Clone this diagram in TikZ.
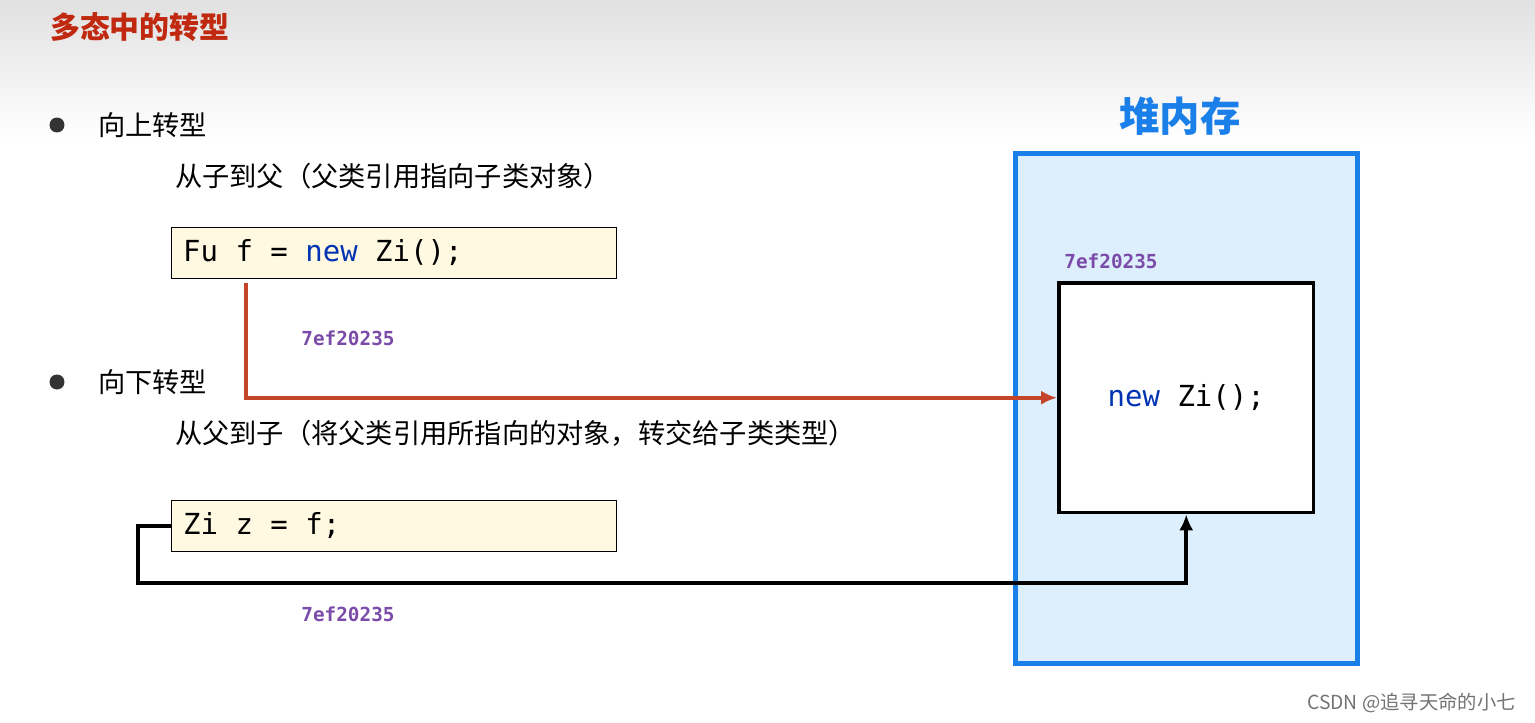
\documentclass[tikz,border=0pt]{standalone}
\usepackage{fontspec}
\setmainfont{Noto Sans CJK SC}
\setmonofont{DejaVu Sans Mono}
\usetikzlibrary{positioning}
\usetikzlibrary{arrows.meta}
\definecolor{titlered}{HTML}{C0280F}
\definecolor{codeblue}{HTML}{0033B3}
\definecolor{addrpurple}{HTML}{7A4BA8}
\definecolor{heapblue}{HTML}{1A7FE8}
\definecolor{heapfill}{HTML}{DDEEFD}
\definecolor{codefill}{HTML}{FFF9E1}
\definecolor{refred}{HTML}{C5452A}
\begin{document}
\begin{tikzpicture}[x=0.02cm, y=-0.02cm,
        codebox/.style={draw, fill=codefill, minimum width=8.9cm, minimum height=1.02cm, anchor=north west, inner sep=0pt},
        addr/.style={text=addrpurple, font=\ttfamily\bfseries\fontsize{11}{13}\selectfont},
        label/.style={anchor=west, font=\fontsize{15.5}{18}\selectfont},
        code/.style={font=\ttfamily\fontsize{16.5}{19}\selectfont},
        dot/.style={circle, fill=black!80, inner sep=0pt, minimum size=0.3cm},
        arrow/.style={line width=2.5pt, -{Latex[length=9pt,width=8pt]}}
    ]
        \useasboundingbox (0,0) rectangle (1535,723);
        \shade[top color=black!12, bottom color=white] (0,0) rectangle (1535,140);
        \node[anchor=west, text=titlered, font=\bfseries\fontsize{17}{20}\selectfont] (title) at (44,27) {多态中的转型};

        \node[dot] (b1) at (57,125) {};
        \node[label] (up) at (92,125) {向上转型};
        \node[label] (upsub) at (169,176) {从子到父（父类引用指向子类对象）};
        \node[codebox] (code1) at (171,227) {};
        \node[anchor=west, code] (c1) at (177,253) {Fu f = \textcolor{codeblue}{new} Zi();};
        \node[addr] (a1) at (348,338) {7ef20235};

        \node[dot] (b2) at (57,382) {};
        \node[label] (down) at (92,382) {向下转型};
        \node[label] (downsub) at (169,433) {从父到子（将父类引用所指向的对象，转交给子类类型）};
        \node[codebox] (code2) at (171,500) {};
        \node[anchor=west, code] (c2) at (177,526) {Zi z = f;};
        \node[addr] (a2) at (348,614) {7ef20235};

        % heap
        \node[draw=heapblue, line width=3pt, fill=heapfill, minimum width=6.84cm, minimum height=10.2cm, anchor=north west] (heap) at (1013,151) {};
        \node[text=heapblue, font=\bfseries\fontsize{23}{26}\selectfont] (heaptitle) at (1180,116) {堆内存};
        \node[addr] (a3) at (1111,261) {7ef20235};
        \node[draw, line width=2pt, fill=white, minimum width=5.1cm, minimum height=4.6cm, anchor=north west] (obj) at (1057,281) {};
        \node[code] (objtext) at (obj.center) {\textcolor{codeblue}{new} Zi();};

        \coordinate (r0) at (246,283);
        \draw[arrow, refred] (r0) |- (obj.west);
        \coordinate (k1) at (138,583);
        \draw[arrow] (code2.west) -| (k1) -| (obj.south);

        \node[anchor=east, text=black!55, font=\fontsize{11}{13}\selectfont] (mark) at (1522,703) {CSDN @追寻天命的小七};
    \end{tikzpicture}
\end{document}
